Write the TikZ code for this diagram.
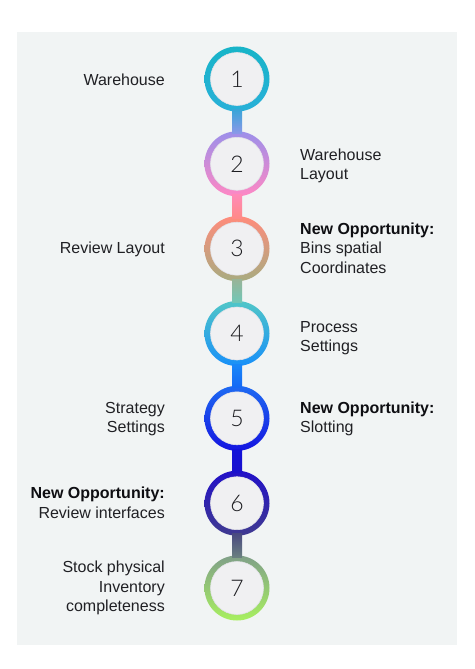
\documentclass[tikz,border=0pt]{standalone}
\usepackage{fontspec}
\setmainfont{Liberation Sans}
\newfontfamily\numfont{Lato Light}
\usetikzlibrary{calc}
\definecolor{panel}{HTML}{F1F4F4}
\definecolor{corefill}{HTML}{F0F0F2}
\definecolor{coreedge}{HTML}{E2E2E8}
\definecolor{txt}{HTML}{202024}
\definecolor{bold}{HTML}{0E0E12}
\definecolor{numcol}{HTML}{1C1C20}
% ring colours
\definecolor{rA}{HTML}{18B4C8}\definecolor{rAb}{HTML}{28B0D8}
\definecolor{rBt}{HTML}{9C8FEA}\definecolor{rBm}{HTML}{EA8AE6}\definecolor{rBb}{HTML}{FF88C4}
\definecolor{rCt}{HTML}{FF8C7C}\definecolor{rCm}{HTML}{F2A04C}\definecolor{rCb}{HTML}{A8AC80}
\definecolor{rDt}{HTML}{50C6C8}\definecolor{rDm}{HTML}{18D0F0}\definecolor{rDb}{HTML}{1890F8}
\definecolor{rEt}{HTML}{1E6AF2}\definecolor{rEb}{HTML}{1414E0}
\definecolor{rFt}{HTML}{2210C8}\definecolor{rFb}{HTML}{403A90}
\definecolor{rGt}{HTML}{80A088}\definecolor{rGb}{HTML}{A8F060}
% connector colours
\definecolor{k1t}{HTML}{3AA5D8}\definecolor{k1b}{HTML}{8A98E8}
\definecolor{k2t}{HTML}{FF8AB8}\definecolor{k2b}{HTML}{FF8A88}
\definecolor{k3t}{HTML}{98B498}\definecolor{k3b}{HTML}{70C8B8}
\definecolor{k4t}{HTML}{1888F8}\definecolor{k4b}{HTML}{1568F5}
\definecolor{k5t}{HTML}{1212DA}\definecolor{k5b}{HTML}{1A10CC}
\definecolor{k6t}{HTML}{4A4A80}\definecolor{k6b}{HTML}{6A8080}
\tikzset{
  ring/.style={circle, minimum size=65pt, inner sep=0pt, shading=axis},
  core/.style={circle, minimum size=53pt, inner sep=0pt, fill=corefill, draw=coreedge, line width=0.6pt,
    font=\numfont\fontsize{23}{23}\selectfont, text=numcol},
  lbl/.style={font=\fontsize{16}{19.5}\selectfont, text=txt, inner sep=0pt},
  lft/.style={lbl, anchor=east, align=right},
  rgt/.style={lbl, anchor=west, align=left},
  link/.style={shading=axis},
}
\newcommand{\NO}{\textbf{\color{bold}New Opportunity:}}
\begin{document}
\begin{tikzpicture}[x=1pt,y=-1pt]
\useasboundingbox (0,0) rectangle (474,669);
\fill[white] (0,0) rectangle (474,669);
\fill[panel] (17,32) rectangle (457,645);
% ring positions
\path
  (237,79) coordinate (p1)
  (237,163.8) coordinate (p2)
  (237,248.7) coordinate (p3)
  (237,333.5) coordinate (p4)
  (237,418.3) coordinate (p5)
  (237,503.2) coordinate (p6)
  (237,588) coordinate (p7);
% rings
\node[ring, top color=rA, bottom color=rAb] (r1) at (p1) {};
\node[ring, top color=rBt, middle color=rBm, bottom color=rBb] (r2) at (p2) {};
\node[ring, top color=rCt, middle color=rCm, bottom color=rCb] (r3) at (p3) {};
\node[ring, top color=rDt, middle color=rDm, bottom color=rDb] (r4) at (p4) {};
\node[ring, top color=rEt, bottom color=rEb] (r5) at (p5) {};
\node[ring, top color=rFt, bottom color=rFb] (r6) at (p6) {};
\node[ring, top color=rGt, bottom color=rGb] (r7) at (p7) {};
% connectors
\shade[link, top color=k1t, bottom color=k1b] ($(r1.south)+(-5pt,2pt)$) rectangle ($(r2.north)+(5pt,-2pt)$);
\shade[link, top color=k2t, bottom color=k2b] ($(r2.south)+(-5pt,2pt)$) rectangle ($(r3.north)+(5pt,-2pt)$);
\shade[link, top color=k3t, bottom color=k3b] ($(r3.south)+(-5pt,2pt)$) rectangle ($(r4.north)+(5pt,-2pt)$);
\shade[link, top color=k4t, bottom color=k4b] ($(r4.south)+(-5pt,2pt)$) rectangle ($(r5.north)+(5pt,-2pt)$);
\shade[link, top color=k5t, bottom color=k5b] ($(r5.south)+(-5pt,2pt)$) rectangle ($(r6.north)+(5pt,-2pt)$);
\shade[link, top color=k6t, bottom color=k6b] ($(r6.south)+(-5pt,2pt)$) rectangle ($(r7.north)+(5pt,-2pt)$);
% cores
\node[core] (n1) at (r1) {1};
\node[core] (n2) at (r2) {2};
\node[core] (n3) at (r3) {3};
\node[core] (n4) at (r4) {4};
\node[core] (n5) at (r5) {5};
\node[core] (n6) at (r6) {6};
\node[core] (n7) at (r7) {7};
% labels
\node[lft] (l1) at (165,80) {Warehouse};
\node[rgt] (l2) at (300,166) {Warehouse\\Layout};
\node[lft] (l3) at (165,249) {Review Layout};
\node[rgt] (l3b) at (300,248) {\NO\\Bins spatial\\Coordinates};
\node[rgt] (l4) at (300,338) {Process\\Settings};
\node[lft] (l5) at (165,419) {Strategy\\Settings};
\node[rgt] (l5b) at (300,419) {\NO\\Slotting};
\node[lft] (l6) at (165,503) {\NO\\Review interfaces};
\node[lft] (l7) at (165,588) {Stock physical\\Inventory\\completeness};
\end{tikzpicture}
\end{document}
